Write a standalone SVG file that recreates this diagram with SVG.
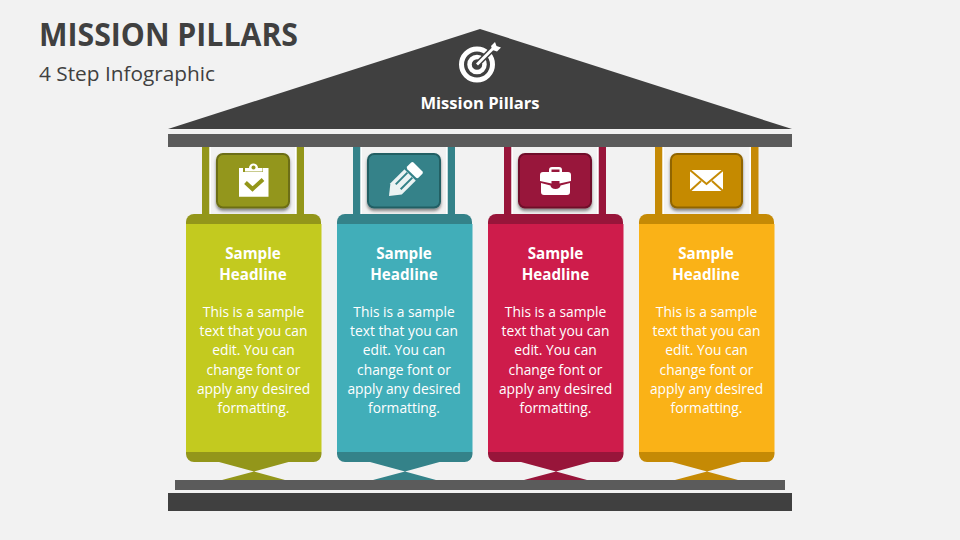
<svg xmlns="http://www.w3.org/2000/svg" width="960" height="540" viewBox="0 0 960 540">
<style>
text{font-family:"Open Sans","Liberation Sans",sans-serif;text-anchor:middle}
.title{font-size:32px;font-weight:700;fill:#404040;text-anchor:start}
.sub{font-size:20.800px;fill:#404040;text-anchor:start}
.roof{font-size:16.600px;font-weight:700;fill:#fff}
.h{font-size:15.200px;font-weight:700;fill:#fff}
.b{font-size:13.800px;fill:#fff}
.ic{fill:#fff}
.o{fill:#93961a}.ol{fill:#c3ca1f}.os{stroke:#6c6e12}
.t{fill:#348289}.tl{fill:#41aeb9}.ts{stroke:#235e64}
.r{fill:#98153a}.rl{fill:#ce1c4b}.rs{stroke:#70102b}
.y{fill:#c58a05}.yl{fill:#fab217}.ys{stroke:#906503}
.btn{stroke-width:2px;filter:url(#sh)}
</style>
<defs>
<filter id="sh" x="-20%" y="-20%" width="140%" height="150%"><feDropShadow dx="0" dy="2.5" stdDeviation="1.600" flood-color="#000" flood-opacity=".45"/></filter>
<path id="card" d="M0 224V222a8 8 0 0 1 8-8H127a8 8 0 0 1 8 8V224Z"/>
<path id="foot" d="M0 452H135.500V454a8 8 0 0 1-8 8H102.500L68 471.500 99 480H36L68 471.500 33 462H8a8 8 0 0 1-8-8Z"/>
</defs>
<rect width="960" height="540" fill="#f2f2f2"/>
<text class="title" x="39" y="46" textLength="259" lengthAdjust="spacingAndGlyphs">MISSION PILLARS</text>
<text class="sub" x="39" y="81">4 Step Infographic</text>
<g id="roof">
<path d="M480 29 792 129H168Z" fill="#404040"/>
<rect x="168" y="134" width="624" height="13" fill="#5b5b5b"/>
<g fill="none" stroke="#fff">
<circle cx="477" cy="64.500" r="15.500" stroke-width="5"/>
<circle cx="477" cy="64.500" r="7.500" stroke-width="4.500"/>
</g>
<path d="M477 64.500 495 46.500" stroke="#404040" stroke-width="6" fill="none"/>
<path d="M477 64.500 495 46.500" stroke="#fff" stroke-width="2.800" fill="none"/>
<path class="ic" d="M491 46 495 42 496.500 46 501 47.500 497 51.500 492.500 50Z"/>
<text class="roof" x="480" y="108.500">Mission Pillars</text>
</g>
<g id="pillar-1">
<rect class="o" x="202" y="147" width="7.500" height="67"/><rect class="o" x="296.500" y="147" width="7.500" height="67"/>
<rect x="209.500" y="147" width="1.500" height="67" fill="#fff"/><rect x="295" y="147" width="1.500" height="67" fill="#fff"/>
<rect class="o os btn" x="217" y="154" width="72" height="53.500" rx="6"/>
<use href="#card" x="186" class="o"/>
<rect class="ol" x="186" y="224" width="135.500" height="228"/>
<use href="#foot" x="186" class="o"/>
<path class="ic" fill-rule="evenodd" d="M239 168H243V172H263V168H268.500V196.700H239ZM245 168H249A4.500 4.500 0 0 1 258 168H262.500V171.500H245ZM253.500 165.500a2 2 0 1 0 .01 0Z"/>
<path d="M245.500 182.500 252.500 189 263 179.500" fill="none" stroke="#93961a" stroke-width="4"/>
<text class="h" x="253" y="259">Sample</text><text class="h" x="253" y="280">Headline</text>
<text class="b" x="253.500" y="317">This is a sample</text><text class="b" x="253.500" y="336">text that you can</text><text class="b" x="253.500" y="355">edit. You can</text><text class="b" x="253.500" y="375">change font or</text><text class="b" x="253.500" y="394">apply any desired</text><text class="b" x="253.500" y="413">formatting.</text>
</g>
<g id="pillar-2">
<rect class="t" x="353" y="147" width="7.500" height="67"/><rect class="t" x="447.500" y="147" width="7.500" height="67"/>
<rect x="360.500" y="147" width="1.500" height="67" fill="#fff"/><rect x="446" y="147" width="1.500" height="67" fill="#fff"/>
<rect class="t ts btn" x="368" y="154" width="72" height="53.500" rx="6"/>
<use href="#card" x="337" class="t"/>
<rect class="tl" x="337" y="224" width="135.500" height="228"/>
<use href="#foot" x="337" class="t"/>
<g transform="translate(389 196) rotate(-45)">
<path class="ic" d="M0 0 10-8H30V8H10Z" opacity=".9"/>
<path d="M13-4.500H29.500V-2.500H13ZM13 2.500H29.500V4.500H13Z" class="t"/>
<rect x="30" y="-8" width="2" height="16" class="t"/>
<rect class="ic" x="32" y="-8" width="9" height="16" rx="2"/>
</g>
<text class="h" x="404" y="259">Sample</text><text class="h" x="404" y="280">Headline</text>
<text class="b" x="404" y="317">This is a sample</text><text class="b" x="404" y="336">text that you can</text><text class="b" x="404" y="355">edit. You can</text><text class="b" x="404" y="375">change font or</text><text class="b" x="404" y="394">apply any desired</text><text class="b" x="404" y="413">formatting.</text>
</g>
<g id="pillar-3">
<rect class="r" x="504" y="147" width="7.500" height="67"/><rect class="r" x="598.500" y="147" width="7.500" height="67"/>
<rect x="511.500" y="147" width="1.500" height="67" fill="#fff"/><rect x="597" y="147" width="1.500" height="67" fill="#fff"/>
<rect class="r rs btn" x="519" y="154" width="72" height="53.500" rx="6"/>
<use href="#card" x="488" class="r"/>
<rect class="rl" x="488" y="224" width="135.500" height="228"/>
<use href="#foot" x="488" class="r"/>
<path class="ic" fill-rule="evenodd" d="M540 175a3 3 0 0 1 3-3H549V170a3 3 0 0 1 3-3H559a3 3 0 0 1 3 3V172H568a3 3 0 0 1 3 3V181L559.500 183.500V181H551.500V183.500L540 181ZM551.500 172H559.500V169.500H551.500ZM541 183 550.500 185.500a5 3.500 0 0 0 10 0L570 183V192a3 3 0 0 1-3 3H544a3 3 0 0 1-3-3Z"/>
<text class="h" x="555.500" y="259">Sample</text><text class="h" x="555.500" y="280">Headline</text>
<text class="b" x="555.500" y="317">This is a sample</text><text class="b" x="555.500" y="336">text that you can</text><text class="b" x="555.500" y="355">edit. You can</text><text class="b" x="555.500" y="375">change font or</text><text class="b" x="555.500" y="394">apply any desired</text><text class="b" x="555.500" y="413">formatting.</text>
</g>
<g id="pillar-4">
<rect class="y" x="655" y="147" width="7.500" height="67"/><rect class="y" x="751" y="147" width="7.500" height="67"/>
<rect x="662.500" y="147" width="1.500" height="67" fill="#fff"/><rect x="749.500" y="147" width="1.500" height="67" fill="#fff"/>
<rect class="y ys btn" x="671" y="154" width="71" height="53.500" rx="6"/>
<use href="#card" x="639" class="y"/>
<rect class="yl" x="639" y="224" width="135.500" height="228"/>
<use href="#foot" x="639" class="y"/>
<rect class="ic" x="690" y="170" width="33" height="21"/>
<path d="M690 170 706.500 184 723 170M690 191 701 181M723 191 712 181" fill="none" stroke="#c58a05" stroke-width="2"/>
<text class="h" x="706" y="259">Sample</text><text class="h" x="706" y="280">Headline</text>
<text class="b" x="706.500" y="317">This is a sample</text><text class="b" x="706.500" y="336">text that you can</text><text class="b" x="706.500" y="355">edit. You can</text><text class="b" x="706.500" y="375">change font or</text><text class="b" x="706.500" y="394">apply any desired</text><text class="b" x="706.500" y="413">formatting.</text>
</g>
<g id="base">
<rect x="175" y="480" width="610" height="10" fill="#5b5b5b"/>
<rect x="168" y="493" width="624" height="18" fill="#404040"/>
</g>
<g id="connectors"/>
</svg>
